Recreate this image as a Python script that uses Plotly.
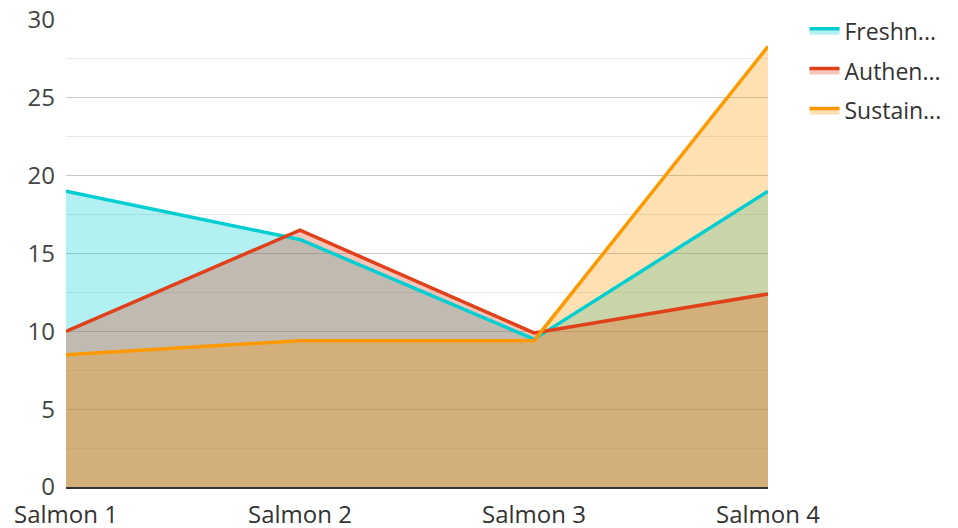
import plotly.graph_objects as go

categories = ["Salmon 1", "Salmon 2", "Salmon 3", "Salmon 4"]
freshness = [19.0, 15.9, 9.5, 19.0]
authenticity = [10.0, 16.5, 9.9, 12.4]
sustainability = [8.5, 9.4, 9.4, 28.3]
series_names = ["Freshn...", "Authen...", "Sustain..."]

colors = ["#00CED1", "#E0401A", "#FF9900"]
fills = ["rgba(0,206,209,0.3)", "rgba(224,64,26,0.3)", "rgba(255,153,0,0.3)"]
all_vals = [freshness, authenticity, sustainability]

fig = go.Figure()
# fills first
for name, vals, c, f in zip(series_names, all_vals, colors, fills):
    fig.add_trace(go.Scatter(
        x=categories, y=vals, mode="lines", showlegend=False, hoverinfo="skip",
        line=dict(color=c, width=0), fill="tozeroy", fillcolor=f,
    ))
# lines on top
for name, vals, c, f in zip(series_names, all_vals, colors, fills):
    fig.add_trace(go.Scatter(
        x=categories, y=vals, name=name, mode="lines", showlegend=False,
        line=dict(color=c, width=3.5),
    ))
# legend entries
for i, (name, vals, c, f) in enumerate(zip(series_names, all_vals, colors, fills)):
    fig.add_trace(go.Scatter(
        x=[None], y=[None], name=name, mode="lines", legendgroup=f"g{i}",
        line=dict(color=c, width=3.5), fill="tozeroy", fillcolor=f,
    ))

fig.update_layout(
    width=950, height=520,
    margin=dict(l=58, r=190, t=12, b=41, autoexpand=False),
    paper_bgcolor="white", plot_bgcolor="white",
    font=dict(family="Open Sans", size=24, color="#444"),
    showlegend=True,
    legend=dict(x=1.052, y=1.023, xanchor="left", yanchor="top",
                font=dict(size=23, color="#333"), tracegroupgap=7),
    xaxis=dict(range=[0, 3], showgrid=False, showline=True, linecolor="#333", linewidth=2,
               ticks="", automargin=False, ticklabeloverflow="allow", ticklabelstandoff=5,
               tickfont=dict(size=24, color="#333")),
    yaxis=dict(range=[0, 30], dtick=5, showgrid=True, gridcolor="#c8c8c8", gridwidth=1,
               zeroline=False, showline=False, ticks="", ticklabelstandoff=10, automargin=False,
               ticklabeloverflow="allow",
               tickfont=dict(size=24, color="#444"),
               minor=dict(dtick=2.5, showgrid=True, gridcolor="#e8e8e8", gridwidth=1)),
)

fig.write_html("out.html")
